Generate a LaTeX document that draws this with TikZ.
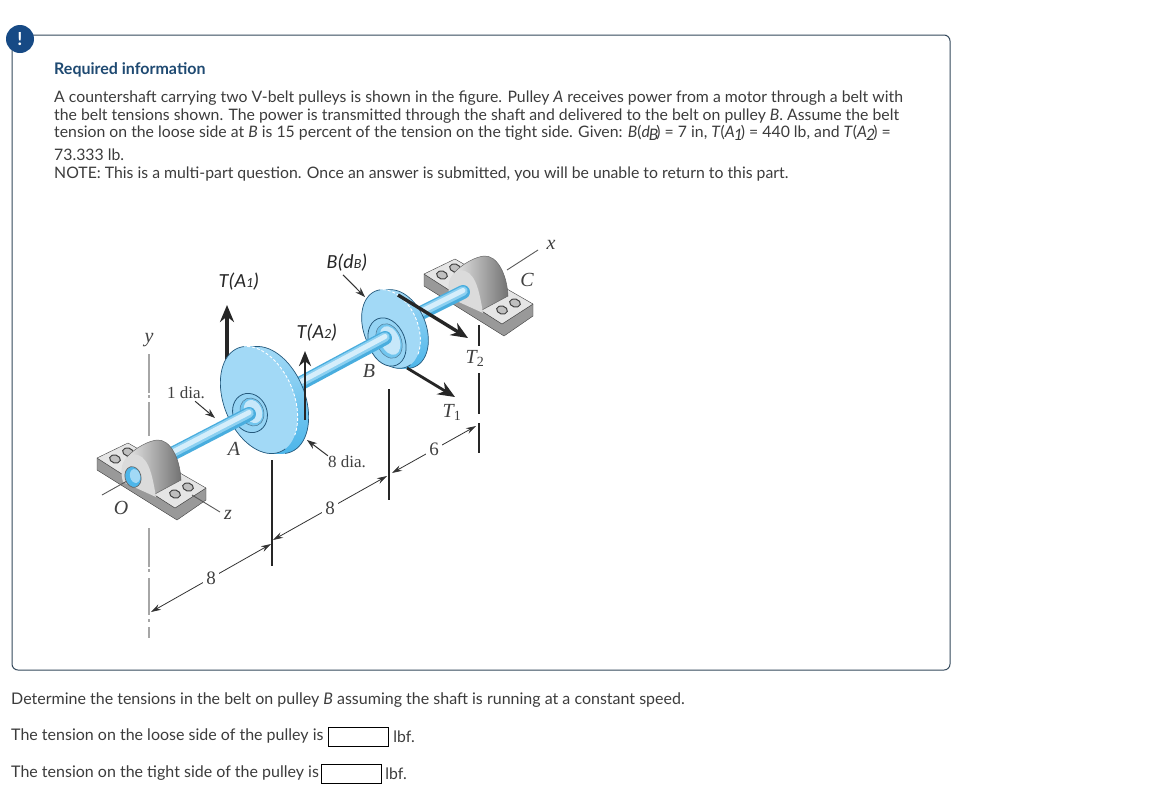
\documentclass[tikz,border=0pt]{standalone}
\usepackage{fontspec}
\setmainfont{Lato}
\newfontfamily\figfont{Liberation Serif}
\newfontfamily\handfont{Carlito}
\usetikzlibrary{positioning,arrows.meta}
\definecolor{framecol}{HTML}{34495C}
\definecolor{badgecol}{HTML}{174A85}
\definecolor{headcol}{HTML}{1F4A72}
\definecolor{textcol}{HTML}{3C3C3C}
\definecolor{facecol}{HTML}{A2D9F6}
\definecolor{rimcol}{HTML}{4DB6EA}
\definecolor{edgecol}{HTML}{25597C}
\newcommand{\subsc}[1]{\kern-1pt\raisebox{-.4ex}{\textit{#1}}\kern-2pt}
\newcommand{\handsub}[1]{{\fontsize{14}{14}\selectfont #1}}
\newcommand{\pulley}[5]{%
  \foreach \i in {0,...,#5}{
    \shade[top color=facecol,bottom color=rimcol,shift={(#1+\i,#2)},rotate=22] (0,0) ellipse [x radius=#3,y radius=#4];
  }
  \draw[edgecol,line width=.7pt,shift={(#1+#5,#2)},rotate=22] plot[domain=-100:100,smooth,samples=40] ({#3*cos(\x)},{#4*sin(\x)});
  \fill[facecol,shift={(#1,#2)},rotate=22] (0,0) ellipse [x radius=#3,y radius=#4];
  \draw[edgecol,line width=.7pt,shift={(#1,#2)},rotate=22] plot[domain=80:280,smooth,samples=40] ({#3*cos(\x)},{#4*sin(\x)});
  \draw[white,densely dashed,line width=.9pt,shift={(#1,#2)},rotate=22] plot[domain=-75:55,smooth,samples=30] ({#3*cos(\x)},{#4*sin(\x)});
}
\newcommand{\hub}[4]{%
  \draw[edgecol,fill=facecol!85!rimcol,line width=.8pt,shift={(#1,#2)},rotate=22] (0,0) ellipse [x radius=#3,y radius=#4];
  \draw[edgecol!80,fill=rimcol!80,line width=.5pt,shift={(#1+2,#2-1)},rotate=22] (0,0) ellipse [x radius=.68*#3,y radius=.72*#4];
  \fill[facecol!60!white,shift={(#1+3,#2-1.5)},rotate=22] (0,0) ellipse [x radius=.52*#3,y radius=.6*#4];
}
\newcommand{\shaftline}[2]{%
  \draw[rimcol!95!black,line width=14pt,line cap=round] (#1) -- (#2);
  \draw[rimcol!65!white,line width=9.5pt,line cap=round,transform canvas={yshift=1pt}] (#1) -- (#2);
  \draw[facecol!45!white,line width=5pt,line cap=round,transform canvas={yshift=1.5pt}] (#1) -- (#2);
}
\tikzset{line node/.style={anchor=base west,inner sep=0pt,text=textcol,font=\fontsize{15.8}{18}\selectfont}}
\tikzset{ask node/.style={line node,font=\fontsize{16}{18}\selectfont}}
\tikzset{head node/.style={line node,text=headcol,font=\fontsize{16}{18}\selectfont\bfseries}}
\tikzset{answer node/.style={rectangle,draw=black,minimum width=60pt,minimum height=19pt,inner sep=0pt,fill=white}}
\tikzset{hand node/.style={inner sep=0pt,text=black!85,font=\handfont\itshape\fontsize{20}{22}\selectfont}}
\tikzset{fig node/.style={inner sep=0pt,text=black!75,font=\figfont\fontsize{17}{18}\selectfont}}
\tikzset{figit node/.style={fig node,font=\figfont\itshape\fontsize{20}{20}\selectfont}}
\tikzset{dim node/.style={midway,fill=white,inner sep=3.5pt,text=black!75,font=\figfont\fontsize{19}{20}\selectfont}}
\tikzset{belt arrow/.style={line width=3.4pt,black!85,-{Stealth[length=17pt,width=14pt]}}}
\tikzset{note arrow/.style={line width=1pt,black!80,-{Stealth[length=10pt,width=7pt]}}}
\tikzset{dim line/.style={line width=.8pt,black!80,{Stealth[length=10pt,width=6pt]}-{Stealth[length=10pt,width=6pt]}}}
\tikzset{ext line/.style={line width=1.1pt,black!85}}
\tikzset{axis line/.style={line width=.9pt,black!65}}
\tikzset{center line/.style={line width=1.8pt,black!35}}
\tikzset{bearing/.pic={
    % base block
    \fill[black!40,draw=black!75,line join=round] (97,458) -- (175,508) -- (206,488) -- (206,500) -- (177,520) -- (97,470) -- cycle;
    \fill[black!10,draw=black!75,line join=round] (97,458) -- (128,443) -- (206,488) -- (175,508) -- cycle;
    \foreach \bx/\by in {115/459,128/452,175/494,188/487}{
      \draw[black!75,fill=black!25,line width=1pt,shift={(\bx,\by)},rotate=-15] (0,0) ellipse [x radius=5.5,y radius=4];
    }
    % pedestal
    \shade[left color=black!10,right color=black!55,draw=black!60,line width=.5pt] (127,457) .. controls (135,448) and (148,441) .. (157,440) .. controls (170,439) and (180,458) .. (181,480) -- (155,494) -- cycle;
    \fill[black!14] (123,482) .. controls (117,460) and (130,452) .. (138,455) .. controls (150,459) and (153,480) .. (156,497) -- cycle;
  }}
\begin{document}
\begin{tikzpicture}[x=1pt,y=-1pt]
    \useasboundingbox (0,0) rectangle (1153,793);
    \fill[white] (0,0) rectangle (1153,793);

    % frame and text
    \draw[framecol,line width=1pt,rounded corners=6pt] (12,35) rectangle (950,670);
    \node[circle,fill=badgecol,minimum size=28pt,inner sep=0pt,text=white,font=\fontsize{18}{18}\selectfont\bfseries] (badge) at (20,39) {!};
    \node[head node] (head) at (54,74) {Required information};
    \node[line node] (l1) at (54,102) {A countershaft carrying two V-belt pulleys is shown in the figure. Pulley \textit{A} receives power from a motor through a belt with};
    \node[line node] (l2) at (54,120) {the belt tensions shown. The power is transmitted through the shaft and delivered to the belt on pulley \textit{B}. Assume the belt};
    \node[line node] (l3) at (54,137) {tension on the loose side at \textit{B} is 15 percent of the tension on the tight side. Given: \textit{B}(\textit{d}\subsc{B}) = 7 in, \textit{T}(\textit{A}\subsc{1}) = 440 lb, and \textit{T}(\textit{A}\subsc{2}) =};
    \node[line node] (l4) at (54,160) {73.333 lb.};
    \node[line node] (l5) at (54,178) {NOTE: This is a multi-part question. Once an answer is submitted, you will be unable to return to this part.};
    \node[ask node] (q0) at (11,704) {Determine the tensions in the belt on pulley \textit{B} assuming the shaft is running at a constant speed.};
    \node[ask node] (q1) at (11,740) {The tension on the loose side of the pulley is};
    \node[ask node] (q2) at (11,777) {The tension on the tight side of the pulley is};
    \node[answer node] (box1) at (358,736.5) {};
    \node[answer node] (box2) at (351,773.5) {};
    \node[line node,anchor=west] (u1) [right = 5pt of box1] {lbf.};
    \node[line node,anchor=west] (u2) [right = 4pt of box2] {lbf.};

    % y axis
    \draw[center line] (149,354) -- (149,393);
    \draw[center line] (149,395) -- (149,398);
    \draw[center line] (149,402) -- (149,436);
    \draw[center line] (149,528) -- (149,567);
    \draw[center line] (149,569) -- (149,572);
    \draw[center line] (149,578) -- (149,615);
    \draw[center line] (149,619) -- (149,622);
    \draw[center line] (149,627) -- (149,638);

    % bearing C
    \coordinate (xa) at (507,270);
    \coordinate (xb) at (538,250);
    \draw[axis line] (xa) -- (xb);
    \pic at (327,-184) {bearing};

    % shaft to C
    \coordinate (s3a) at (415,316);
    \coordinate (s3b) at (463,292);
    \shaftline{s3a}{s3b}

    % pulley B
    \pulley{391}{329}{27}{41}{8}
    \hub{387}{342}{18}{25}
    \coordinate (t2a) at (398,295);
    \coordinate (t2b) at (468,338);
    \draw[belt arrow] (t2a) -- (t2b);
    \coordinate (t1a) at (407,368);
    \coordinate (t1b) at (455,397);
    \draw[belt arrow,line width=2.8pt] (t1a) -- (t1b);

    % shaft from A to B
    \coordinate (s2a) at (290,389);
    \coordinate (s2b) at (385,338);
    \shaftline{s2a}{s2b}

    % T(A1) arrow and pulley A
    \coordinate (a1a) at (227,375);
    \coordinate (a1b) at (227,305);
    \draw[belt arrow] (a1a) -- (a1b);
    \pulley{259}{400}{35}{56}{11}
    \hub{250}{413}{17}{20}
    \coordinate (a2a) at (305,420);
    \coordinate (a2b) at (305,351);
    \draw[belt arrow,line width=2.8pt,-{Stealth[length=15pt,width=12pt]}] (a2a) -- (a2b);

    % shaft from bearing O to A
    \coordinate (s1a) at (170,455);
    \coordinate (s1b) at (249,414);
    \shaftline{s1a}{s1b}

    % bearing O
    \coordinate (oa) at (102,495);
    \coordinate (ob) at (127,481);
    \coordinate (za) at (192,495);
    \coordinate (zb) at (220,512);
    \pic at (0,0) {bearing};
    \draw[axis line] (oa) -- (ob);
    \draw[axis line] (za) -- (zb);
    \draw[black!60,fill=rimcol,line width=.7pt,rotate around={14:(133,477)}] (133,477) ellipse [x radius=8,y radius=10.5];
    \fill[facecol,rotate around={14:(135,476)}] (135,476) ellipse [x radius=5,y radius=7];

    % extension lines
    \draw[ext line] (272,460) -- (272,566);
    \draw[ext line] (389,389) -- (389,500);
    \draw[ext line] (479,325) -- (479,346);
    \draw[ext line] (479,373) -- (479,414);
    \draw[ext line] (479,423) -- (479,453);

    % dimensions
    \coordinate (d0) at (151,612);
    \coordinate (d1) at (271,544);
    \coordinate (d2) at (273,540);
    \coordinate (d3) at (387,476);
    \coordinate (d4) at (392,473);
    \coordinate (d5) at (476,426);
    \draw[dim line] (d0) -- node[dim node] (dim1) {8} (d1);
    \draw[dim line] (d2) -- node[dim node] (dim2) {8} (d3);
    \draw[dim line] (d4) -- node[dim node] (dim3) {6} (d5);

    % notes
    \node[fig node] (dia1) at (186,393) {1 dia.};
    \node[fig node] (dia8) at (347,462) {8 dia.};
    \coordinate (n1) at (215,418);
    \coordinate (n8) at (307,440);
    \coordinate (nb) at (365,297);
    \draw[note arrow] (dia1.south east) ++(-10,2) -- (n1);
    \draw[note arrow] (dia8.north west) -- (n8);

    % labels
    \node[hand node] (ta1) at (239,282) {T(A\handsub{1})};
    \node[hand node] (ta2) at (317,333) {T(A\handsub{2})};
    \node[hand node] (bdb) at (347,263) {B(d\handsub{B})};
    \draw[note arrow] (bdb.south) ++(-4,3) -- (nb);
    \node[figit node] (ylab) at (149,340) {y};
    \node[figit node] (xlab) at (551,245) {x};
    \node[figit node] (zlab) at (228,515) {z};
    \node[figit node] (olab) at (121,508) {O};
    \node[figit node] (alab) at (234,449) {A};
    \node[figit node] (blab) at (369,371) {B};
    \node[figit node] (clab) at (527,280) {C};
    \node[figit node] (t2lab) at (475,358) {T{\upshape\textsubscript{2}}};
    \node[figit node] (t1lab) at (452,412) {T{\upshape\textsubscript{1}}};
\end{tikzpicture}
\end{document}
